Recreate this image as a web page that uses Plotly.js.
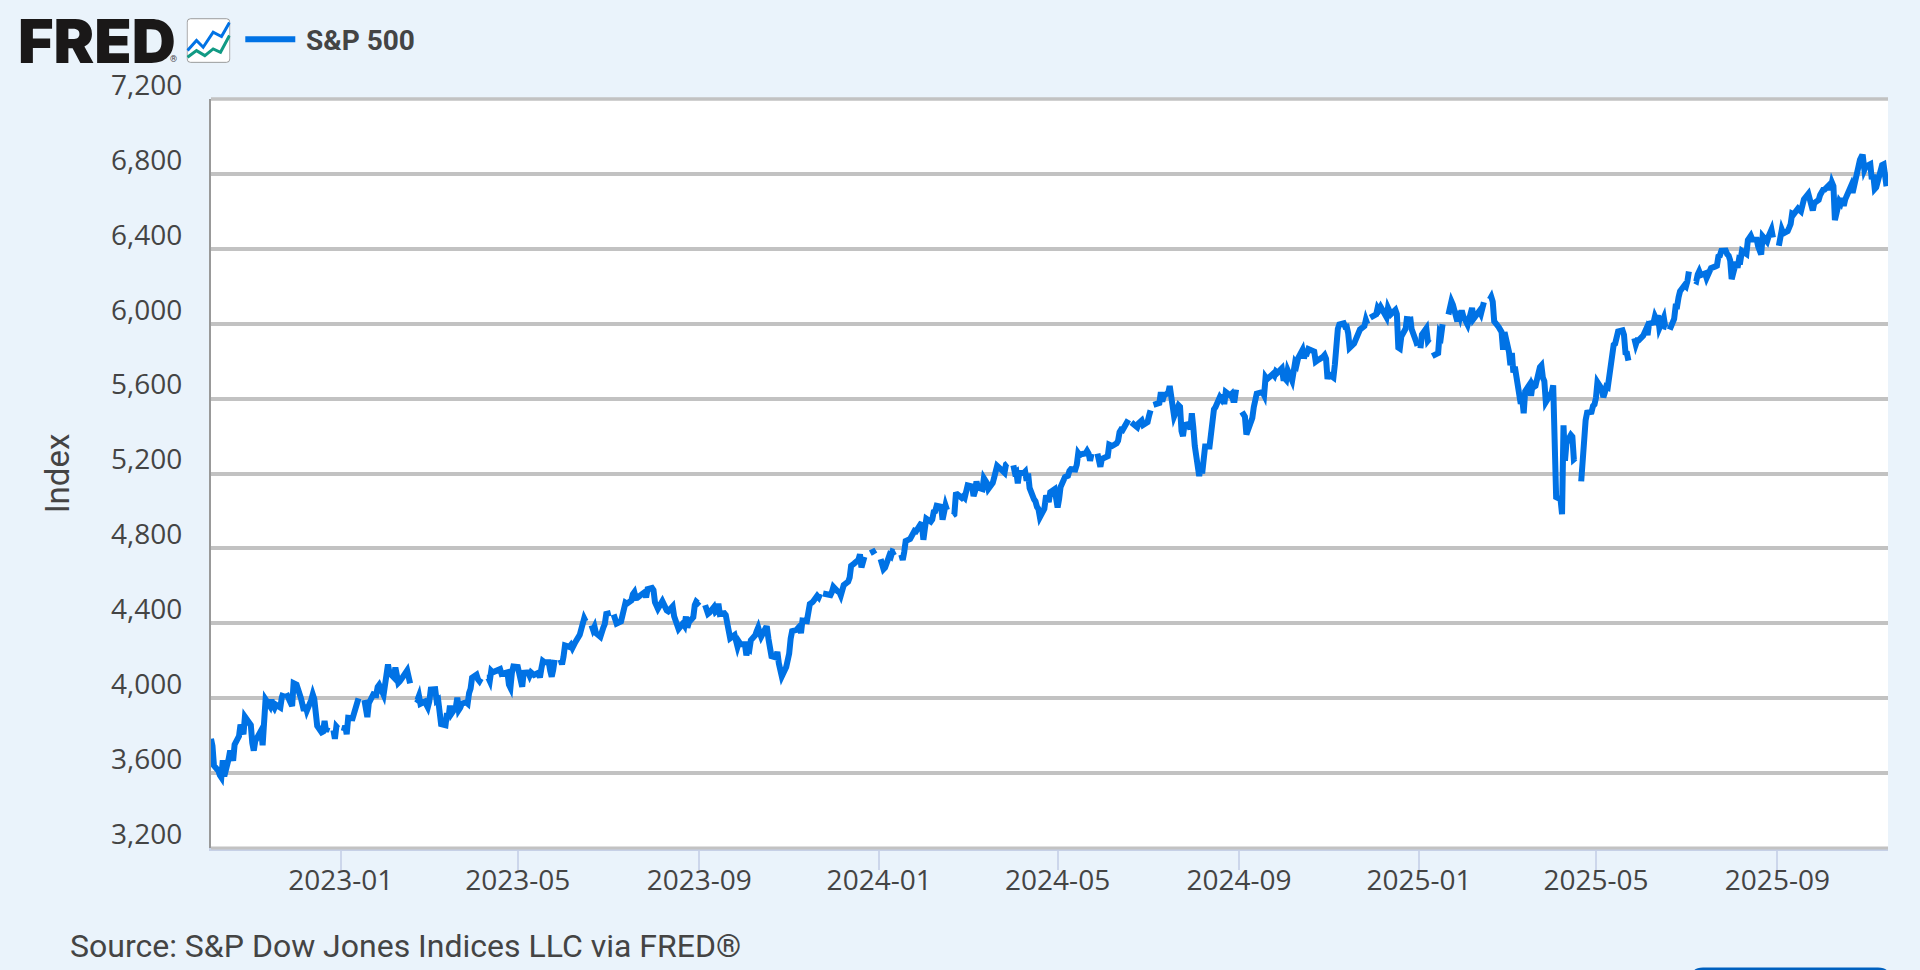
<!DOCTYPE html>
<html><head><meta charset="utf-8">
<script src="https://cdn.plot.ly/plotly-3.0.1.min.js"></script>
<style>html,body{margin:0;padding:0;background:#eaf3fb;overflow:hidden}#chart{width:1920px;height:970px}
.js-plotly-plot .scatterlayer path.js-line{stroke-miterlimit:4 !important;stroke-linejoin:miter !important}</style>
</head><body><div id="chart"></div>
<script>
const seriesName = '\u2009S&P 500';
const yTicks = [3200,3600,4000,4400,4800,5200,5600,6000,6400,6800,7200];
const firstDates = {y2022:'2022-10-05', y2023:'2023-01-02', y2024:'2024-01-01', y2025:'2025-01-01'};
// weekday closes, null on market holidays
const close2022 = [3783,3745,3640,
3612,3589,3577,3669,3583,3677,3720,3695,3666,3752,3797,3859,3831,3807,3901,3872,
3856,3760,3720,3771,3807,3828,3749,3956,3993,3957,3992,3959,3947,3965,3950,4004,4028,null,4026,3964,3958,4080,
4077,4072,3999,3941,3933,3964,3934,3991,4020,3996,3896,3852,3818,3822,3879,3822,3845,null,3829,3783,3849,3840];
const close2023 = [null,3824,3853,3808,3895,3893,3919,3970,3983,3999,null,3991,3929,3899,3973,4020,4017,4016,4060,4071,4018,4077,
4120,4180,4136,4111,4164,4118,4082,4090,4137,4136,4148,4090,4079,null,3997,3991,4012,3970,3982,3970,
3951,3982,4046,4048,3986,3992,3919,3862,3856,3920,3892,3960,3917,3952,4003,3937,3949,3971,3978,3971,4028,4051,4109,
4125,4101,4091,4105,null,4109,4109,4092,4146,4138,4152,4155,4155,4130,4134,4138,4072,4056,4136,4169,
4167,4119,4091,4061,4136,4138,4120,4138,4131,4124,4136,4110,4159,4198,4192,4192,4146,4115,4151,4205,null,4206,4180,
4221,4282,4274,4284,4268,4294,4299,4338,4369,4373,4426,4410,null,4389,4366,4382,4348,4328,4378,4377,4396,4450,
4456,null,4447,4412,4399,4410,4439,4473,4510,4505,4522,4555,4566,4535,4536,4554,4567,4566,4538,4582,4589,
4577,4513,4502,4478,4518,4499,4468,4469,4464,4490,4438,4404,4370,4370,4400,4388,4436,4377,4406,4433,4497,4515,4508,
4516,null,4497,4465,4451,4457,4487,4461,4468,4505,4450,4454,4444,4402,4330,4320,4337,4274,4275,4300,4288,
4288,4229,4263,4258,4309,4336,4358,4377,4350,4328,4374,4373,4315,4278,4224,4217,4248,4186,4137,4117,4167,4194,
4238,4318,4358,4365,4379,4383,4347,4415,4412,4496,4503,4508,4514,4547,4538,4557,null,4559,4550,4554,4551,4568,
4595,4570,4567,4549,4586,4604,4622,4644,4707,4719,4719,4740,4768,4698,4747,4755,null,4775,4782,4783,4770];
const close2024 = [null,4743,4705,4689,4697,4764,4757,4783,4780,4784,null,4766,4739,4781,4840,4851,4865,4869,4894,4891,4928,4925,4846,
4906,4959,4943,4954,4995,4998,5027,5022,4954,5001,5030,5006,null,4976,4982,5087,5089,5070,5078,5070,5096,
5137,5131,5079,5105,5157,5124,5117,5175,5165,5150,5117,5149,5179,5225,5241,5234,5218,5204,5248,5254,null,
5243,5206,5211,5147,5204,5202,5210,5161,5200,5123,5062,5051,5022,5011,4967,5011,5071,5072,5048,5100,5116,5036,
5018,5064,5128,5181,5188,5188,5214,5223,5221,5247,5308,5297,5303,5308,5321,5307,5268,5305,null,5306,5267,5236,5278,
5283,5292,5354,5353,5347,5361,5375,5421,5434,5431,5473,5487,null,5473,5465,5447,5469,5478,5483,5460,
5475,5509,5537,null,5567,5572,5577,5634,5585,5615,5631,5667,5589,5545,5505,5564,5556,5427,5400,5459,5464,5436,5522,
5446,5347,5186,5240,5200,5319,5344,5344,5434,5455,5543,5554,5608,5597,5621,5571,5635,5617,5625,5592,5592,5648,
null,5529,5520,5503,5408,5471,5496,5554,5596,5626,5633,5634,5618,5714,5703,5718,5732,5722,5745,5738,5762,
5709,5709,5700,5751,5696,5751,5792,5780,5815,5859,5815,5843,5841,5865,5853,5851,5797,5809,5808,5823,5832,5813,5705,
5729,5712,5783,5929,5973,5996,6002,5984,5985,5949,5871,5894,5917,5917,5949,5969,5987,6021,5999,null,6032,
6047,6050,6086,6075,6090,6053,6034,6085,6051,6051,6074,6051,5872,5867,5931,5974,6040,null,6038,5971,5907,5882];
const close2025 = [null,5869,5942,5975,5909,5919,null,5827,5837,5843,5950,5937,5997,null,6049,6086,6119,6101,6012,6068,6039,6071,6041,
5994,6038,6061,6084,6026,6066,6068,6052,6115,6115,null,6130,6144,6118,6013,5983,5955,5956,5861,5955,
5850,5778,5843,5739,5770,5615,5572,5599,5522,5639,5675,5615,5675,5663,5668,5768,5777,5712,5693,5581,5612,
5633,5671,5397,5074,5062,4983,5457,5268,5363,5406,5397,5276,5283,null,5158,5288,5376,5485,5525,5529,5561,5569,
5604,5687,5650,5607,5631,5664,5660,5844,5887,5893,5917,5958,5964,5940,5845,5842,5803,null,5922,5889,5912,5912,
5936,5970,5971,5939,6000,6006,6039,6022,6045,5977,6033,5983,5981,null,5968,6025,6092,6092,6141,6173,6205,
6198,6227,6279,null,6230,6226,6263,6280,6260,6269,6244,6264,6297,6297,6306,6310,6359,6363,6389,6390,6371,6363,6339,
6238,6330,6299,6345,6340,6389,6373,6446,6467,6469,6450,6449,6411,6396,6370,6467,6439,6465,6481,6502,6460,
null,6416,6448,6502,6482,6495,6513,6532,6588,6584,6615,6607,6600,6632,6664,6694,6656,6638,6605,6644,6661,6688,
6711,6715,6716,6740,6715,6754,6735,6553,6655,6644,6671,6630,6664,6735,6736,6699,6738,6792,6875,6891,6890,6822,6840,
6852,6772,6796,6720,6729,6832,6847,6851,6737,6734];

function weekdays(start, n){
  const out=[]; const d=new Date(start+'T00:00:00Z');
  while(out.length<n){
    const w=d.getUTCDay();
    if(w!==0&&w!==6) out.push(d.toISOString().slice(0,10));
    d.setUTCDate(d.getUTCDate()+1);
  }
  return out;
}
const dates=[].concat(weekdays(firstDates.y2022,close2022.length),weekdays(firstDates.y2023,close2023.length),weekdays(firstDates.y2024,close2024.length),weekdays(firstDates.y2025,close2025.length));
const values=[].concat(close2022,close2023,close2024,close2025);

const L=211,T=98.5,W=1677,H=749.5;
const px=x=>(x-L)/W, py=y=>(T+H-y)/H;
const iconSvg='<svg xmlns="http://www.w3.org/2000/svg" viewBox="560 53 132 134"><rect x="562" y="55" width="128" height="130" rx="10" fill="#fff" stroke="#8a8a8a" stroke-width="2.5"/><polyline points="563,150 590,120 610,140 640,95 665,108 689,66" fill="none" stroke="#0072e5" stroke-width="9"/><polyline points="563,170 590,150 615,165 640,145 662,155 689,105" fill="none" stroke="#119a84" stroke-width="9"/></svg>';

const trace={type:'scatter',mode:'lines',name:seriesName,x:dates,y:values,connectgaps:false,
  line:{color:'#0072e5',width:6,shape:'linear'},hoverinfo:'x+y'};
const tickFont={family:'"Open Sans",sans-serif',size:28,color:'#444'};
const edgeGrid=(p,w)=>({type:'line',xref:'paper',yref:'paper',x0:0,x1:1,y0:p,y1:p,line:{color:'#c2c2c2',width:w},layer:'above'});
const layout={
  width:1920,height:970,paper_bgcolor:'#eaf3fb',plot_bgcolor:'#fff',
  margin:{l:L,r:1920-L-W,t:T,b:970-T-H,pad:0},
  font:{family:'Roboto,sans-serif',color:'#444'},
  showlegend:true,
  legend:{x:px(247)-0.004,y:py(39),xanchor:'left',yanchor:'middle',bgcolor:'rgba(0,0,0,0)',itemwidth:50,
    font:{family:'Roboto,sans-serif',size:28,weight:700,color:'#444'}},
  xaxis:{type:'date',range:['2022-10-05','2025-11-15'],dtick:'M4',tick0:'2023-01-01',tickformat:'%Y-%m',
    showgrid:false,showline:true,linecolor:'#c6d0e6',linewidth:3,ticks:'outside',ticklen:19,tickwidth:2,tickcolor:'#ccd6eb',
    tickfont:tickFont,ticklabelstandoff:-14,zeroline:false},
  yaxis:{range:[3200,7200],tickvals:yTicks,tickformat:',d',gridcolor:'#c2c2c2',gridwidth:3.5,showline:true,linecolor:'#999',linewidth:2,
    ticks:'',tickfont:tickFont,ticklabelstandoff:21,ticklabelshift:-14,zeroline:false,
    title:{text:'Index',font:{family:'Roboto,sans-serif',size:33,color:'#444'},standoff:32}},
  annotations:[
    {xref:'paper',yref:'paper',x:px(68),y:py(946),xanchor:'left',yanchor:'middle',showarrow:false,
     text:'Source: S&P Dow Jones Indices LLC via FRED®',font:{family:'Roboto,sans-serif',size:32,color:'#444'}},
    {xref:'paper',yref:'paper',x:px(16),y:py(40),xanchor:'left',yanchor:'middle',showarrow:false,
     text:'FRED',font:{family:'Inter,sans-serif',size:61,weight:900,color:'#1a1818'}},
    {xref:'paper',yref:'paper',x:px(168),y:py(58),xanchor:'left',yanchor:'middle',showarrow:false,
     text:'®',font:{family:'Roboto,sans-serif',size:9,color:'#444'}}
  ],
  images:[{source:'data:image/svg+xml;utf8,'+encodeURIComponent(iconSvg),xref:'paper',yref:'paper',
    x:px(186.5),y:py(17.5),sizex:44/W,sizey:45/H,xanchor:'left',yanchor:'top',sizing:'stretch',layer:'above'}],
  shapes:[edgeGrid(0,3),edgeGrid(1,3.5),
    {type:'path',xref:'paper',yref:'paper',
    path:`M ${px(1693)} ${py(974)} Q ${px(1693)} ${py(967.5)} ${px(1703)} ${py(967.5)} L ${px(1878)} ${py(967.5)} Q ${px(1888)} ${py(967.5)} ${px(1888)} ${py(974)} Z`,
    fillcolor:'#0060bf',line:{width:0}}]
};
Plotly.newPlot('chart',[trace],layout,{displayModeBar:false,responsive:false});
</script></body></html>
